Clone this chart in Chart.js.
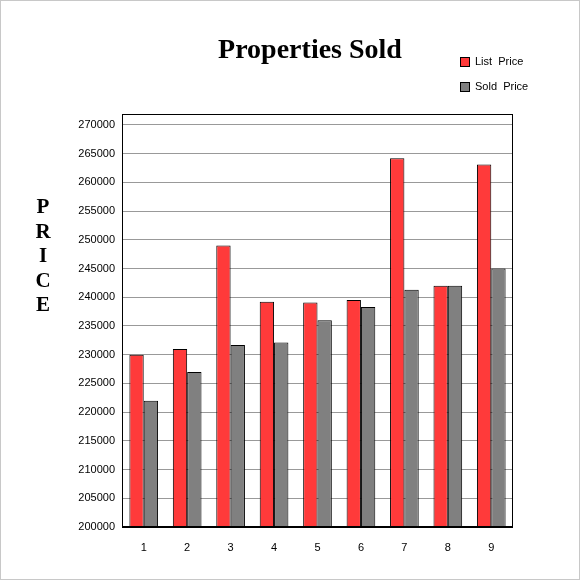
<!DOCTYPE html>
<html>
<head>
<meta charset="utf-8">
<script src="https://cdn.jsdelivr.net/npm/chart.js@4/dist/chart.umd.min.js"></script>
<style>
  html, body { margin: 0; padding: 0; background: #fff; }
  #wrap { width: 580px; height: 580px; }
</style>
</head>
<body>
<div id="wrap"><canvas id="chart" width="580" height="580"></canvas></div>
<script>
const categories = ["1", "2", "3", "4", "5", "6", "7", "8", "9"];
const listPrice = [230000, 231000, 249000, 239200, 239100, 239500, 264200, 242000, 263100];
const soldPrice = [222000, 227000, 231700, 232100, 236000, 238300, 241300, 242000, 245000];
const yTicks = [200000, 205000, 210000, 215000, 220000, 225000, 230000, 235000,
                240000, 245000, 250000, 255000, 260000, 265000, 270000];
const seriesNames = ["List  Price", "Sold  Price"];
const seriesColors = ["#ff3a3a", "#808080"];

// titolo, legenda, scritta PRICE e cornici
const decor = {
  id: "decor",
  afterDraw(chart) {
    const c = chart.ctx;
    const a = chart.chartArea;
    c.save();
    c.strokeStyle = "#c8c8c8";
    c.lineWidth = 1;
    c.strokeRect(0.5, 0.5, 579, 579);

    c.strokeStyle = "#000";
    c.strokeRect(a.left + 0.5, a.top + 0.5, a.right - a.left - 1, a.bottom - a.top);
    c.lineWidth = 2;
    c.beginPath();
    c.moveTo(a.left, a.bottom);
    c.lineTo(a.right, a.bottom);
    c.stroke();

    c.fillStyle = "#000";
    c.font = "bold 28px 'Liberation Serif', serif";
    c.textAlign = "center";
    c.textBaseline = "middle";
    c.fillText("Properties Sold", 310, 51);

    c.font = "bold 21px 'Liberation Serif', serif";
    "PRICE".split("").forEach((ch, i) => c.fillText(ch, 43, 208 + i * 24.5));

    c.font = "11px 'Liberation Sans', Arial, sans-serif";
    c.textAlign = "left";
    c.lineWidth = 1;
    seriesNames.forEach((name, i) => {
      const y = 57 + i * 25;
      c.fillStyle = seriesColors[i];
      c.fillRect(460, y, 9, 9);
      c.strokeRect(460.5, y + 0.5, 9, 9);
      c.fillStyle = "#000";
      c.fillText(name, 475, y + 5);
    });
    c.restore();
  }
};

new Chart(document.getElementById("chart"), {
  type: "bar",
  data: {
    labels: categories,
    datasets: [
      { label: seriesNames[0], data: listPrice, backgroundColor: seriesColors[0], borderColor: "#000", borderWidth: 1, borderSkipped: false },
      { label: seriesNames[1], data: soldPrice, backgroundColor: seriesColors[1], borderColor: "#000", borderWidth: 1, borderSkipped: false }
    ]
  },
  options: {
    responsive: false,
    animation: false,
    layout: { padding: { top: 114, right: 67, bottom: 0, left: 0 } },
    datasets: { bar: { categoryPercentage: 0.66, barPercentage: 1 } },
    plugins: { legend: { display: false }, title: { display: false }, tooltip: { enabled: false } },
    scales: {
      x: {
        grid: { display: false },
        border: { display: false },
        ticks: { color: "#000", padding: 6, font: { family: "'Liberation Sans', Arial", size: 11 } },
        afterFit(s) { s.height = 53; }
      },
      y: {
        min: 200000,
        max: 271900,
        grid: { color: "#999", drawTicks: false },
        border: { display: false },
        ticks: {
          color: "#000", padding: 7,
          font: { family: "'Liberation Sans', Arial", size: 11 },
          callback: v => String(v)
        },
        afterBuildTicks(s) { s.ticks = yTicks.map(v => ({ value: v })); },
        afterFit(s) { s.width = 122; }
      }
    }
  },
  plugins: [decor]
});
</script>
</body>
</html>
